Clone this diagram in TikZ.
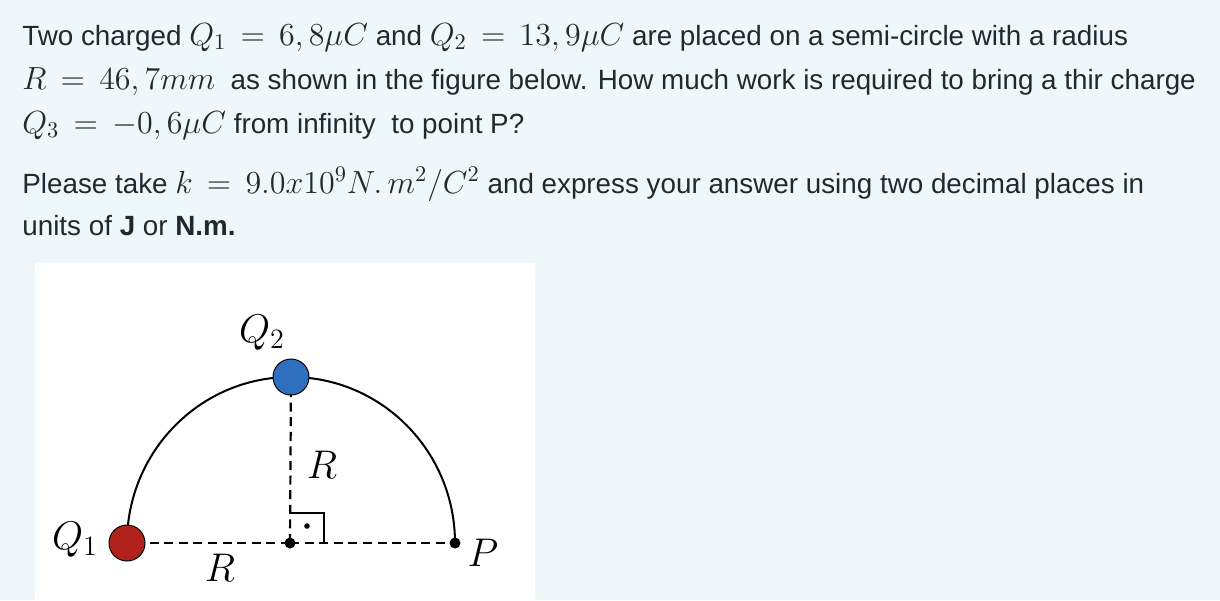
\RequirePackage{fix-cm}
\documentclass[tikz,border=0pt]{standalone}
\usepackage[no-math]{fontspec}
\setsansfont{Liberation Sans}
\definecolor{pagebg}{RGB}{240,247,251}
\definecolor{inktext}{RGB}{30,42,50}
\definecolor{qred}{RGB}{176,35,26}
\definecolor{qblue}{RGB}{47,111,191}
\newcommand\mth[1]{{\fontsize{16}{22}\selectfont\thickmuskip=8mu$#1$}}
\tikzset{
  txtline/.style={anchor=base west, inner sep=0pt, text=inktext,
    font=\sffamily\fontsize{13.9}{22}\selectfont},
  charge/.style={draw, circle, line width=0.5pt, minimum size=18pt, inner sep=0pt},
  lbl/.style={inner sep=0pt, font=\fontsize{20}{22}\selectfont},
  guide/.style={dash pattern=on 4.5pt off 2.8pt, line width=1.1pt},
  pt/.style={fill, circle, inner sep=0pt, minimum size=5.5pt}
}
\begin{document}
\begin{tikzpicture}[x=0.5pt, y=-0.5pt]
\useasboundingbox[fill=pagebg] (0,0) rectangle (1220,600);
% Text of the problem
\node[txtline] (l1) at (22,45) {Two charged \mth{Q_1 = 6,8\mu C} and \mth{Q_2 = 13,9\mu C} are placed on a semi-circle with a radius};
\node[txtline] (l2) at (22,89) {\mth{R = 46,7mm}\ \ as shown in the figure below. How much work is required to bring a thir charge};
\node[txtline] (l3) at (22,133) {\mth{Q_3 = -0,6\mu C} from infinity\ \ to point P?};
\node[txtline] (l4) at (22,193) {Please take \mth{k = 9.0x10^9 N.\,m^2/C^2} and express your answer using two decimal places in};
\node[txtline] (l5) at (22,235) {units of \textbf{J} or \textbf{N.m.}};

% Figure panel
\fill[white] (35,263) rectangle (535,600);
\coordinate (o) at (290,543);
\coordinate (a) at (127,543);
\coordinate (b) at (291,377);
\coordinate (p) at (455,543);

% Semi-circle
\draw[line width=1pt] (p) arc[start angle=0, end angle=-180, x radius=164, y radius=166];
% Radii
\draw[guide] (o) -- (a);
\draw[guide] (o) -- (p);
\draw[guide] (o) -- (b);
% Right angle
\draw[line width=1.2pt] (o) ++(0,-30) -- ++(34,0) -- ++(0,30);
\fill (307,526) circle[radius=2.8];

% Charges and points
\node[charge, fill=qred] (q1) at (a) {};
\node[charge, fill=qblue] (q2) at (b) {};
\node[pt] (centre) at (o) {};
\node[pt] (pp) at (p) {};

% Labels
\node[lbl] (q1l) at (75,540) {$Q_1$};
\node[lbl] (q2l) at (262,333) {$Q_2$};
\node[lbl] (rh) at (220,568) {$R$};
\node[lbl] (rv) at (322,465) {$R$};
\node[lbl] (pl) at (483,553) {$P$};
\end{tikzpicture}
\end{document}
